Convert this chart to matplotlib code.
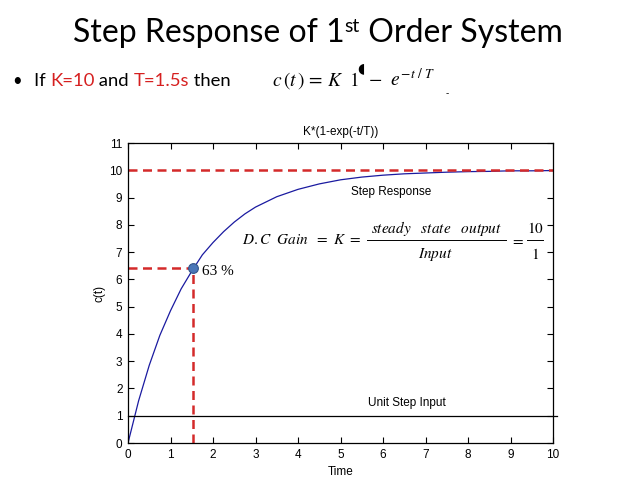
import matplotlib
matplotlib.use("Agg")
import matplotlib.pyplot as plt

# Werte (K=10, T=1.5s)
t_vals = [0, 0.25, 0.5, 0.75, 1, 1.25, 1.5, 1.75, 2, 2.25, 2.5, 2.75, 3,
          3.5, 4, 4.5, 5, 5.5, 6, 6.5, 7, 7.5, 8, 8.5, 9, 9.5, 10]
c_vals = [0, 1.55, 2.85, 3.95, 4.85, 5.65, 6.3, 6.9, 7.35, 7.75, 8.1, 8.4, 8.65,
          9.03, 9.3, 9.5, 9.65, 9.75, 9.82, 9.87, 9.9, 9.93, 9.95, 9.96, 9.98, 9.98, 9.99]
step_input = [1, 1]
step_t = [0, 10.1]
steady = 10.02
t63 = 1.52
c63 = 6.4
xticks = list(range(0, 11))
yticks = list(range(0, 12))

plt.rcParams["font.family"] = ["Liberation Sans", "DejaVu Sans"]
plt.rcParams["mathtext.fontset"] = "stix"

fig = plt.figure(figsize=(6.38, 4.79), dpi=100)
ax = fig.add_axes([128 / 638, 1 - 443 / 479, 425 / 638, 300 / 479])

red = "#d42a2a"
dash = (0, (3.6, 2.2))
ax.plot(t_vals, c_vals, color="#1a1aa0", lw=0.9)
ax.plot(step_t, step_input, color="black", lw=0.9, clip_on=False)
ax.plot([0, 10], [steady, steady], color=red, lw=1.8, ls=dash)
ax.plot([0, t63], [c63, c63], color=red, lw=1.8, ls=dash)
ax.plot([t63, t63], [0, c63], color=red, lw=1.8, ls=dash)
ax.plot([t63], [c63], "o", ms=7, color="#4a76b8", mec="#33558a", mew=0.8, zorder=5)

ax.text(1.74, 6.29, "63 %", fontsize=11, family="Liberation Serif", va="center")
ax.text(6.19, 9.19, "Step Response", fontsize=8.5, ha="center", va="center")
ax.text(6.56, 1.47, "Unit Step Input", fontsize=8.5, ha="center", va="center")

# D.C Gain Gleichung
eq_fs = 11
ax.text(2.68, 7.44, r"$D.C\ \ Gain\ \ =\ K\ =$", fontsize=eq_fs, va="center")
ax.text(7.26, 7.87, r"$steady\ \ \ state\ \ \ output$", fontsize=eq_fs,
        ha="center", va="center")
ax.plot([5.62, 8.9], [7.43, 7.43], color="black", lw=0.7)
ax.text(7.22, 6.91, r"$Input$", fontsize=eq_fs, ha="center", va="center")
ax.text(9.16, 7.44, r"$=$", fontsize=eq_fs, ha="center", va="center")
ax.text(9.58, 7.87, r"$\mathrm{10}$", fontsize=eq_fs, ha="center", va="center")
ax.plot([9.39, 9.76], [7.43, 7.43], color="black", lw=0.7)
ax.text(9.58, 6.91, r"$\mathrm{1}$", fontsize=eq_fs, ha="center", va="center")

ax.set_xlim(0, 10)
ax.set_ylim(0, 11)
ax.set_xticks(xticks)
ax.set_yticks(yticks)
ax.tick_params(direction="in", length=4, width=0.8, labelsize=8.5,
               top=True, right=True, pad=4)
for s in ax.spines.values():
    s.set_linewidth(0.9)
ax.set_title("K*(1-exp(-t/T))", fontsize=8.5, pad=6)
ax.set_xlabel("Time", fontsize=8.5, labelpad=4)
ax.set_ylabel("c(t)", fontsize=8.5, labelpad=3)

fig.canvas.draw()
r = fig.canvas.get_renderer()

# Folienkopf
ty = 1 - 42 / 479
parts = [("Step Response of 1", 23, 0), ("st", 14, 10), (" Order System", 23, 0)]
widths = []
for txt, fs, rise in parts:
    t = fig.text(0, 0, txt, fontsize=fs, family="Lato")
    widths.append(t.get_window_extent(r).width)
    t.remove()
x = (318 - sum(widths) / 2) / 638
for (txt, fs, rise), w in zip(parts, widths):
    fig.text(x, ty + rise / 479, txt, fontsize=fs, family="Lato", va="baseline")
    x += w / 638

x = 12 / 638
y = 1 - 86 / 479
pieces = [("\u2022", "black", 12, 12), ("If ", "black", 13.3, 0), ("K=10", "#d62020", 13.3, 0),
          (" and ", "black", 13.3, 0), ("T=1.5s", "#d62020", 13.3, 0), (" then", "black", 13.3, 0)]
for txt, col, fs, gap in pieces:
    t = fig.text(x, y, txt, fontsize=fs, family="Lato", color=col,
                 va="baseline", ha="left")
    w = t.get_window_extent(r).width
    x += (w + gap) / 638

fig.text(272 / 638, y, r"$c\,(t\,)\,=\,K$", fontsize=14, va="baseline")
fig.text(349 / 638, y, r"$\mathrm{1}$", fontsize=14, va="baseline")
fig.text(368 / 638, y, r"$-\ \ e^{-t\ /\ T}$", fontsize=14, va="baseline")
fig.text(357 / 638, 1 - 72 / 479, "\u25d6", fontsize=10, family="DejaVu Sans",
         va="baseline")
fig.text(446 / 638, 1 - 96 / 479, "-", fontsize=7, va="baseline")

fig.savefig("out.png", dpi=100)
